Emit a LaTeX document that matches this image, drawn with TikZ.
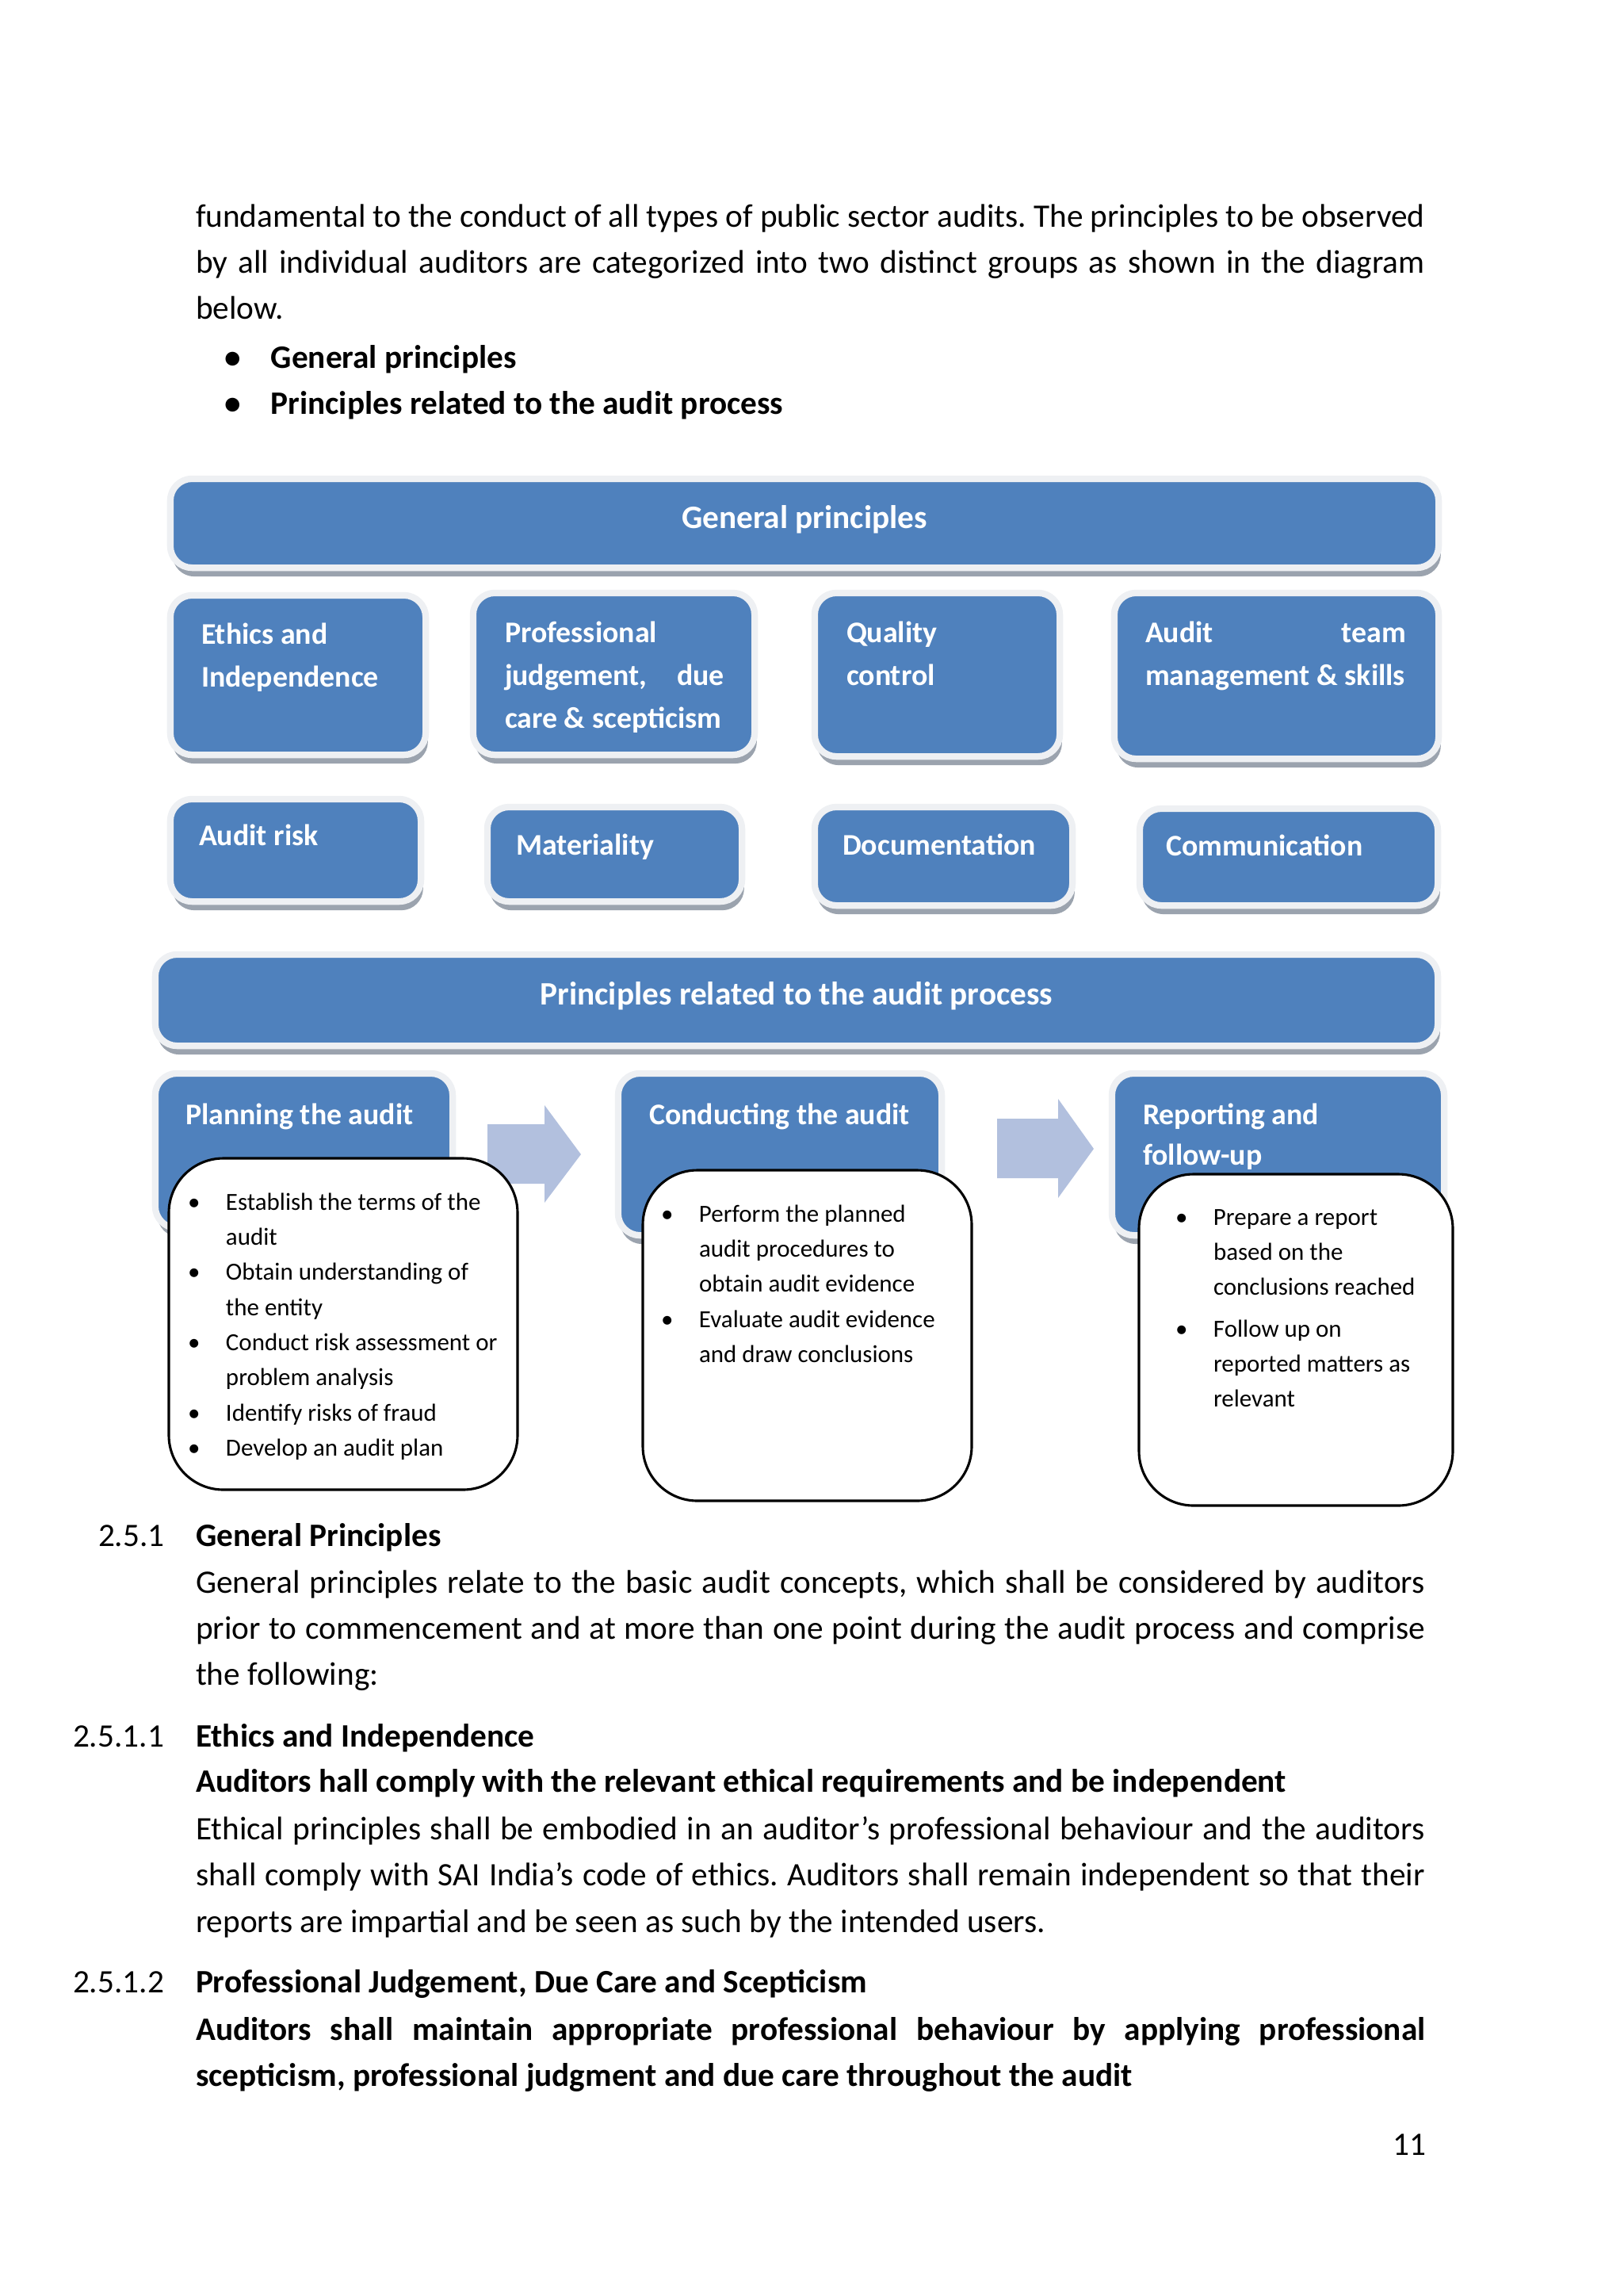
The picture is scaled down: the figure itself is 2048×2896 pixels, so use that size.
\documentclass[tikz,border=0pt]{standalone}
\usepackage{fontspec}
\setmainfont{Carlito}
\usetikzlibrary{fit,shadows}

\definecolor{boxblue}{RGB}{79,129,189}
\definecolor{glow}{RGB}{238,240,243}
\definecolor{shadowgray}{RGB}{155,163,174}
\definecolor{arrowblue}{RGB}{178,192,222}

\newcommand{\bul}{\makebox[13.95pt][l]{\textbullet}}
\newcommand{\ind}{\hspace*{13.95pt}}

\begin{document}
\frenchspacing
\begin{tikzpicture}[
        x=0.29066pt, y=-0.29066pt,
        every node/.style={inner sep=0pt, outer sep=0pt},
        bluebox/.style={fill=boxblue, draw=glow, line width=2.4pt, rounded corners=8pt, inner sep=1.2pt,
          drop shadow={shadow xshift=0.8pt, shadow yshift=-3.2pt, fill=shadowgray, opacity=1}},
        banner/.style={anchor=base, text=white, font=\bfseries\fontsize{12}{15}\selectfont},
        textbox/.style={fill=white, draw=black, line width=0.9pt, rounded corners=20pt, inner sep=0pt},
        hd/.style={anchor=base west, text width=120pt, align=flush left, text=white, font=\bfseries\fontsize{11}{15.7}\selectfont},
        small/.style={anchor=base west, text width=140pt, align=flush left, font=\fontsize{9}{12.9}\selectfont},
        body/.style={anchor=base west, font=\fontsize{12}{17}\selectfont},
        bodyb/.style={anchor=base west, font=\bfseries\fontsize{12}{17}\selectfont},
        para/.style={body, text width=450.8pt, align=justify}
      ]
      \useasboundingbox (0,0) rectangle (2048,2896);

      \node[para] (intro) at (247,286) {fundamental to the conduct of all types of public sector audits. The principles to be observed\linebreak by all individual auditors are categorized into two distinct groups as shown in the diagram\linebreak below.};
      \node[bodyb, text width=300pt, align=flush left] (groups) at (283,464) {\makebox[17.1pt][l]{\textbullet}General principles\\\makebox[17.1pt][l]{\textbullet}Principles related to the audit process};

      \node[bluebox, fit={(219,608) (1811,712)}] (general) {};
      \node[banner] (general-t) at (1015,666) {General principles};

      \node[bluebox, fit={(219,755) (533,948)}] (ethics) {};
      \node[bluebox, fit={(601,752) (948,948)}] (judgement) {};
      \node[bluebox, fit={(1032,752) (1333,950)}] (quality) {};
      \node[bluebox, fit={(1410,752) (1811,953)}] (team) {};
      \node[hd] (ethics-t) at (254,812) {Ethics and\\Independence};
      \node[hd] (judgement-t) at (637,810) {Professional\\\makebox[80.5pt][s]{judgement, due}\\care \& scepticism};
      \node[hd] (quality-t) at (1068,810) {Quality\\control};
      \node[hd] (team-t) at (1445,810) {\makebox[95.6pt][s]{Audit team}\\management \& skills};

      \node[bluebox, fit={(219,1012) (527,1133)}] (risk) {};
      \node[bluebox, fit={(619,1022) (932,1133)}] (materiality) {};
      \node[bluebox, fit={(1032,1022) (1349,1138)}] (documentation) {};
      \node[bluebox, fit={(1442,1024) (1810,1138)}] (communication) {};
      \node[hd] (risk-t) at (251,1066) {Audit risk};
      \node[hd] (materiality-t) at (651,1078) {Materiality};
      \node[hd] (documentation-t) at (1063,1078) {Documentation};
      \node[hd] (communication-t) at (1471,1079) {Communication};

      \node[bluebox, fit={(200,1208) (1810,1315)}] (process) {};
      \node[banner] (process-t) at (1005,1267) {Principles related to the audit process};

      \node[bluebox, fit={(200,1358) (567,1545)}] (planning) {};
      \node[bluebox, fit={(784,1358) (1184,1554)}] (conducting) {};
      \node[bluebox, fit={(1407,1358) (1818,1554)}] (reporting) {};
      \node[hd] (planning-t) at (234,1418) {Planning the audit};
      \node[hd] (conducting-t) at (819,1418) {Conducting the audit};
      \node[hd, font=\bfseries\fontsize{11}{15.1}\selectfont] (reporting-t) at (1442,1418) {Reporting and\\follow-up};

      \fill[arrowblue] (615,1418) -- (687,1418) -- (687,1394) -- (733,1456) -- (687,1517) -- (687,1493) -- (615,1493) -- cycle;
      \fill[arrowblue] (1258,1411) -- (1335,1411) -- (1335,1386) -- (1380,1449) -- (1335,1511) -- (1335,1486) -- (1258,1486) -- cycle;

      \node[textbox, fit={(213,1461) (653,1879)}] (planning-b) {};
      \node[textbox, fit={(811,1476) (1226,1893)}] (conducting-b) {};
      \node[textbox, fit={(1437,1481) (1833,1899)}] (reporting-b) {};
      \node[small] (planning-l) at (237,1526) {\bul Establish the terms of the\\\ind audit\\\bul Obtain understanding of\\\ind the entity\\\bul Conduct risk assessment or\\\ind problem analysis\\\bul Identify risks of fraud\\\bul Develop an audit plan};
      \node[small] (conducting-l) at (834,1541) {\bul Perform the planned\\\ind audit procedures to\\\ind obtain audit evidence\\\bul Evaluate audit evidence\\\ind and draw conclusions};
      \node[small] (reporting-l) at (1483,1545) {\bul Prepare a report\\\ind based on the\\\ind conclusions reached\\[2.3pt]\bul Follow up on\\\ind reported matters as\\\ind relevant};

      \node[body] (sec1) at (124,1950) {2.5.1};
      \node[bodyb] (sec1-t) at (247,1950) {General Principles};
      \node[para] (sec1-p) at (247,2009) {General principles relate to the basic audit concepts, which shall be considered by auditors\linebreak prior to commencement and at more than one point during the audit process and comprise\linebreak the following:};
      \node[body] (sec2) at (92,2203) {2.5.1.1};
      \node[bodyb] (sec2-t) at (247,2203) {Ethics and Independence};
      \node[bodyb] (sec2-r) at (247,2260) {Auditors hall comply with the relevant ethical requirements and be independent};
      \node[para] (sec2-p) at (247,2320) {Ethical principles shall be embodied in an auditor’s professional behaviour and the auditors\linebreak shall comply with SAI India’s code of ethics. Auditors shall remain independent so that their\linebreak reports are impartial and be seen as such by the intended users.};
      \node[body] (sec3) at (92,2513) {2.5.1.2};
      \node[bodyb] (sec3-t) at (247,2513) {Professional Judgement, Due Care and Scepticism};
      \node[para, font=\bfseries\fontsize{12}{17}\selectfont] (sec3-r) at (247,2573) {Auditors shall maintain appropriate professional behaviour by applying professional\linebreak scepticism, professional judgment and due care throughout the audit};

      \node[body, anchor=base east] (page) at (1799,2718) {11};

      \end{tikzpicture}
\end{document}
